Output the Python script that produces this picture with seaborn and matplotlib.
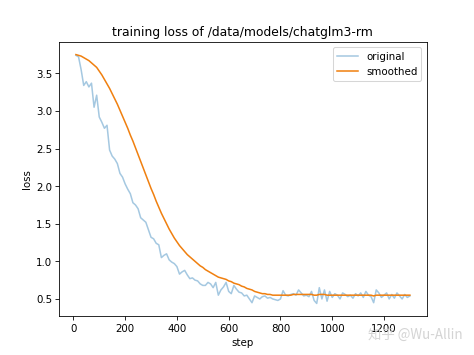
import numpy as np
import pandas as pd
import seaborn as sns
import matplotlib.pyplot as plt

plt.rcParams['font.family'] = ['DejaVu Sans', 'Noto Sans CJK SC']

title = "training loss of /data/models/chatglm3-rm"
steps = list(range(10, 1301, 10))

original = [
    3.74, 3.72, 3.55, 3.34, 3.39, 3.32, 3.37, 3.05, 3.21, 2.92,
    2.85, 2.77, 2.81, 2.48, 2.40, 2.36, 2.30, 2.17, 2.12, 2.03,
    1.96, 1.90, 1.78, 1.75, 1.70, 1.58, 1.55, 1.52, 1.42, 1.32,
    1.30, 1.24, 1.22, 1.05, 1.08, 1.10, 1.02, 0.99, 0.97, 0.93,
    0.83, 0.86, 0.88, 0.82, 0.77, 0.78, 0.75, 0.74, 0.70, 0.68,
    0.68, 0.72, 0.70, 0.65, 0.72, 0.55, 0.62, 0.66, 0.72, 0.60,
    0.57, 0.68, 0.63, 0.59, 0.58, 0.54, 0.55, 0.50, 0.45, 0.54,
    0.52, 0.50, 0.53, 0.54, 0.51, 0.52, 0.50, 0.49, 0.48, 0.50,
    0.61, 0.55, 0.54, 0.56, 0.57, 0.55, 0.62, 0.58, 0.54, 0.55,
    0.53, 0.60, 0.48, 0.44, 0.65, 0.50, 0.62, 0.47, 0.60, 0.52,
    0.57, 0.55, 0.50, 0.58, 0.56, 0.53, 0.55, 0.51, 0.57, 0.54,
    0.58, 0.52, 0.60, 0.55, 0.53, 0.45, 0.62, 0.58, 0.52, 0.55,
    0.58, 0.50, 0.56, 0.51, 0.58, 0.54, 0.50, 0.56, 0.52, 0.54,
]

smoothed = [
    3.75, 3.74, 3.73, 3.71, 3.69, 3.67, 3.64, 3.61, 3.58, 3.53,
    3.48, 3.42, 3.36, 3.30, 3.23, 3.16, 3.09, 3.01, 2.93, 2.85,
    2.77, 2.68, 2.60, 2.51, 2.42, 2.33, 2.24, 2.15, 2.06, 1.97,
    1.89, 1.80, 1.72, 1.64, 1.57, 1.50, 1.43, 1.37, 1.31, 1.26,
    1.21, 1.17, 1.13, 1.09, 1.06, 1.03, 1.00, 0.97, 0.94, 0.92,
    0.89, 0.87, 0.85, 0.83, 0.81, 0.79, 0.78, 0.77, 0.76, 0.74,
    0.73, 0.71, 0.70, 0.69, 0.67, 0.66, 0.64, 0.63, 0.62, 0.60,
    0.59, 0.58, 0.57, 0.57, 0.56, 0.56, 0.55, 0.55, 0.55, 0.55,
    0.55, 0.55, 0.55, 0.55, 0.56, 0.56, 0.56, 0.56, 0.56, 0.56,
    0.56, 0.56, 0.55, 0.55, 0.56, 0.56, 0.56, 0.55, 0.55, 0.55,
    0.55, 0.55, 0.55, 0.55, 0.55, 0.55, 0.55, 0.55, 0.55, 0.55,
    0.55, 0.55, 0.55, 0.55, 0.55, 0.54, 0.55, 0.55, 0.55, 0.55,
    0.55, 0.55, 0.55, 0.55, 0.55, 0.55, 0.55, 0.55, 0.55, 0.55,
]

df = pd.DataFrame({"step": steps, "original": original, "smoothed": smoothed})

fig, ax = plt.subplots(figsize=(6.4, 4.8), dpi=74.0625)
sns.lineplot(data=df, x="step", y="original", color="#1f77b4", alpha=0.4,
             label="original", ax=ax)
sns.lineplot(data=df, x="step", y="smoothed", color="#f08010",
             label="smoothed", ax=ax)
ax.set_title(title)
ax.set_xlabel("step")
ax.set_ylabel("loss")
ax.legend(loc="upper right")

# watermark from the source image
fig.text(0.975, 0.057, "知乎 @Wu-Allin", ha="right", va="center", fontsize=13,
         color="#d4d4d4", family=['Noto Sans CJK SC', 'DejaVu Sans'])

fig.savefig("out.png")
